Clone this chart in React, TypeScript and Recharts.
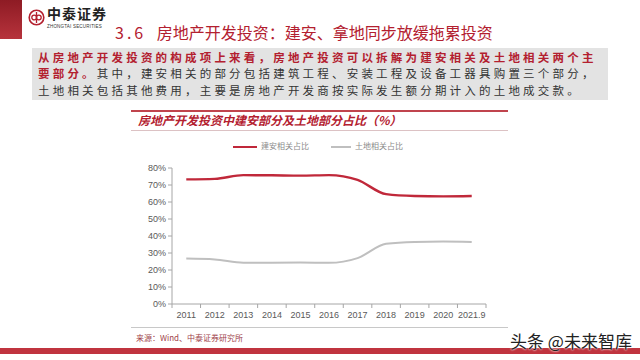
import React from "react";
import { LineChart, Line, XAxis, YAxis } from "recharts";

// 房地产开发投资中建安部分及土地部分占比（%）
const YEARS = ["2011", "2012", "2013", "2014", "2015", "2016", "2017", "2018", "2019", "2020", "2021.9"];
const JIANAN = [73.3, 73.6, 75.8, 75.7, 75.5, 75.8, 73.0, 64.6, 63.5, 63.3, 63.5];
const TUDI = [26.7, 26.2, 24.3, 24.3, 24.4, 24.2, 27.0, 35.4, 36.5, 36.7, 36.5];
const Y_TICKS = [0, 10, 20, 30, 40, 50, 60, 70, 80];

const RED = "#b3202f";
const LINE_RED = "#c0283a";
const LINE_GRAY = "#bfbfbf";
const CJK = '"Noto Sans CJK SC", "Noto Sans", sans-serif';
const LATIN = 'Arial, "Liberation Sans", sans-serif';

const data = YEARS.map((year, i) => ({ year, jianan: JIANAN[i], tudi: TUDI[i] }));

// plot box
const PLOT_LEFT = 172;
const PLOT_RIGHT = 486;
const PLOT_TOP = 168;
const PLOT_BOTTOM = 304;
const BAND = (PLOT_RIGHT - PLOT_LEFT) / YEARS.length;

/** Excel-style category tick: label in band centre, tick marks between bands */
function XTick(props: any) {
  const { x, y, payload, index } = props;
  const last = index === YEARS.length - 1;
  return (
    <g>
      <line x1={x - BAND / 2} x2={x - BAND / 2} y1={y} y2={y + 4} stroke="#a6a6a6" />
      {last && <line x1={x + BAND / 2} x2={x + BAND / 2} y1={y} y2={y + 4} stroke="#a6a6a6" />}
      <text x={x} y={y + 11} textAnchor="middle" dominantBaseline="central" fontSize={9} fill="#595959" fontFamily={LATIN}>
        {payload.value}
      </text>
    </g>
  );
}

const abs = (left: number, top: number, extra: React.CSSProperties = {}): React.CSSProperties => ({
  position: "absolute", left, top, whiteSpace: "nowrap", ...extra,
});

export default function App() {
  return (
    <div style={{ position: "absolute", left: 0, top: 0, width: 640, height: 360, background: "#fff", overflow: "hidden", fontFamily: CJK }}>
      {/* header strip + logo */}
      <div style={abs(0, 0, { width: 22, height: 39, background: "linear-gradient(180deg, #8e1b24 0%, #b7333c 100%)" })} />
      <svg style={abs(28, 9)} width={17} height={17} viewBox="0 0 17 17">
        <circle cx={8.5} cy={8.5} r={7.3} fill="none" stroke={RED} strokeWidth={1.6} />
        <circle cx={6.2} cy={8.5} r={2.4} fill="none" stroke={RED} strokeWidth={1.3} />
        <circle cx={10.8} cy={8.5} r={2.4} fill="none" stroke={RED} strokeWidth={1.3} />
        <line x1={8.5} y1={3} x2={8.5} y2={14} stroke={RED} strokeWidth={1.3} />
      </svg>
      <div style={abs(47, 5, { fontSize: 14, fontWeight: 700, color: "#222", lineHeight: "16px", letterSpacing: 1 })}>中泰证券</div>
      <div style={abs(47, 24, { fontSize: 4.5, color: "#333", lineHeight: "5px", fontFamily: LATIN, letterSpacing: 0.2 })}>ZHONGTAI SECURITIES</div>

      <div style={abs(115, 23, { fontSize: 16, color: RED, lineHeight: "18px" })}>
        <span style={{ letterSpacing: 3 }}>3.6 </span>
        <span style={{ marginLeft: 4 }}>房地产开发投资：建安、拿地同步放缓拖累投资</span>
      </div>

      {/* summary box */}
      <div style={abs(32, 48, { width: 576, height: 52, background: "#e3e3e3" })} />
      <div style={abs(38, 48.5, { fontSize: 11.5, lineHeight: "16.7px", letterSpacing: 3.2, color: "#333" })}>
        <div style={{ color: RED, fontWeight: 700 }}>从房地产开发投资的构成项上来看，房地产投资可以拆解为建安相关及土地相关两个主</div>
        <div>
          <span style={{ color: RED, fontWeight: 700 }}>要部分。</span>
          其中，建安相关的部分包括建筑工程、安装工程及设备工器具购置三个部分，
        </div>
        <div>土地相关包括其他费用，主要是房地产开发商按实际发生额分期计入的土地成交款。</div>
      </div>

      {/* chart frame */}
      <div style={abs(131, 110, { width: 377, height: 2, background: "#c0444d" })} />
      <div style={abs(138, 113, { fontSize: 12, lineHeight: "14px", color: RED, fontWeight: 700, fontStyle: "italic" })}>
        房地产开发投资中建安部分及土地部分占比（%）
      </div>
      <div style={abs(131, 130, { width: 377, height: 1, background: "#dcc2c4" })} />

      {/* legend */}
      <div style={abs(233, 146, { width: 24, height: 2, background: LINE_RED })} />
      <div style={abs(261, 141, { fontSize: 8, lineHeight: "10px", color: "#8c8c8c" })}>建安相关占比</div>
      <div style={abs(331, 146, { width: 20, height: 1.5, background: LINE_GRAY })} />
      <div style={abs(355, 141, { fontSize: 8, lineHeight: "10px", color: "#8c8c8c" })}>土地相关占比</div>

      <div style={abs(0, 0)}>
        <LineChart
          width={640}
          height={360}
          data={data}
          margin={{ top: PLOT_TOP, right: 640 - PLOT_RIGHT, bottom: 360 - PLOT_BOTTOM - 30, left: PLOT_LEFT - 60 }}
        >
          <XAxis
            dataKey="year"
            scale="band"
            height={30}
            interval={0}
            tickSize={0}
            tickMargin={0}
            tickLine={false}
            axisLine={{ stroke: "#a6a6a6" }}
            tick={<XTick />}
          />
          <YAxis
            width={60}
            domain={[0, 80]}
            ticks={Y_TICKS}
            interval={0}
            tickSize={4}
            tickMargin={2}
            tickFormatter={(v: number) => `${v}%`}
            tick={{ fontSize: 9, fill: "#595959", fontFamily: LATIN }}
            axisLine={{ stroke: "#a6a6a6" }}
            tickLine={{ stroke: "#a6a6a6" }}
          />
          <Line type="monotone" dataKey="jianan" stroke={LINE_RED} strokeWidth={2.4} dot={false} isAnimationActive={false} />
          <Line type="monotone" dataKey="tudi" stroke={LINE_GRAY} strokeWidth={2} dot={false} isAnimationActive={false} />
        </LineChart>
      </div>

      {/* footer */}
      <div style={abs(131, 327, { width: 377, height: 1, background: "#c8c8c8" })} />
      <div style={abs(136, 333, { fontSize: 8, lineHeight: "10px", color: "#a0434a" })}>来源：Wind、中泰证券研究所</div>
      <div style={abs(0, 348, { width: 640, height: 6, background: "#c0343f" })} />
      <div style={abs(510, 331, { fontSize: 17, lineHeight: "20px", color: "#222", textShadow: "0 0 2px #fff, 0 0 2px #fff" })}>头条 @未来智库</div>
    </div>
  );
}
